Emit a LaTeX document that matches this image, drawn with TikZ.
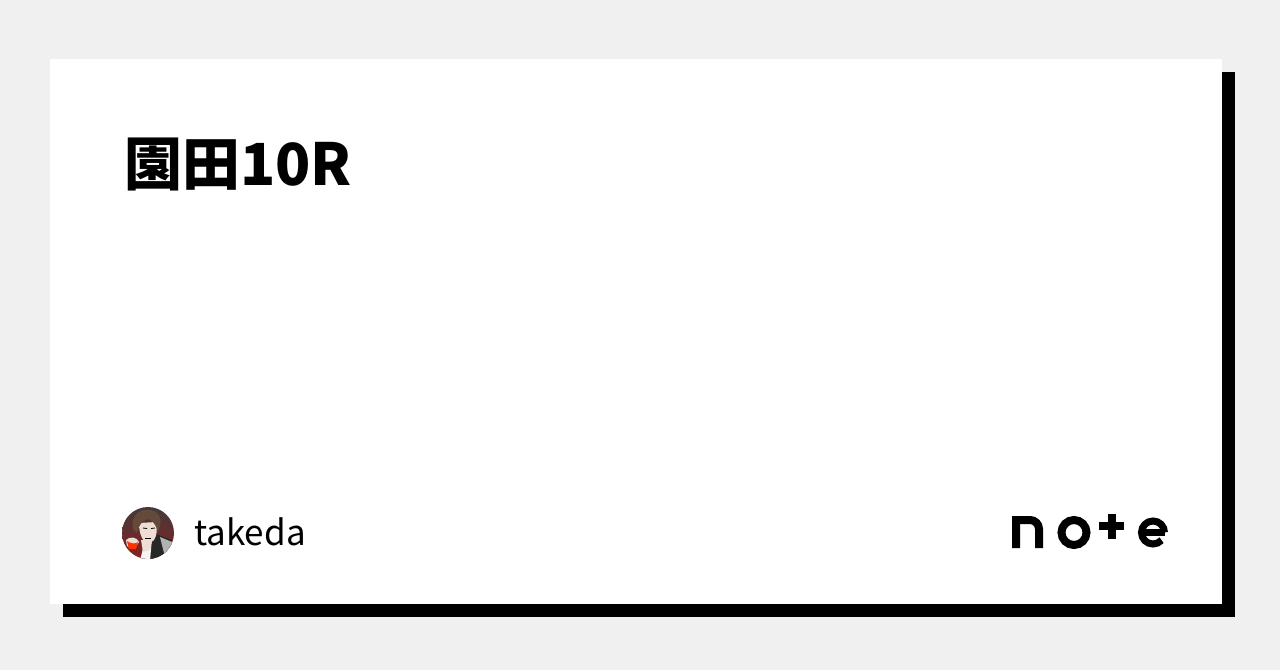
\documentclass[tikz,border=0pt]{standalone}
\usepackage{fontspec}
\newfontfamily\jp{Noto Sans CJK JP}
\definecolor{pagebg}{RGB}{240,240,240}
\definecolor{hair}{RGB}{100,74,58}
\definecolor{skin}{RGB}{238,222,212}
\definecolor{avtop}{RGB}{62,60,60}
\definecolor{avbot}{RGB}{140,30,30}
\definecolor{jacket}{RGB}{40,40,40}
\tikzset{
  logo/.style={line width=8pt},
  titletext/.style={anchor=base west, inner sep=0pt, font=\jp\bfseries\fontsize{58}{62}\selectfont},
  nametext/.style={anchor=base west, inner sep=0pt, font=\jp\fontsize{35}{38}\selectfont}
}
\begin{document}
\begin{tikzpicture}[x=1pt,y=-1pt]
\useasboundingbox (0,0) rectangle (1280,670);
\fill[pagebg] (0,0) rectangle (1280,670);
% card shadow and card
\fill[black] (63,72) rectangle (1235,617);
\fill[white] (50,59) rectangle (1222,604);
% title
\node[titletext] (title) at (124,185) {園田10R};
% avatar
\begin{scope}
\clip (148,533) circle[radius=26];
\shade[top color=avtop, bottom color=avbot] (120,505) rectangle (176,561);
% jacket
\fill[jacket] (146,545) -- (156,534) -- (172,540) -- (176,561) -- (140,561) -- cycle;
\fill[gray!60] (160,537) -- (172,542) -- (176,561) -- (166,561) -- cycle;
% shirt
\fill[white!92!gray] (140,561) -- (144,544) -- (152,538) -- (150,561) -- cycle;
% neck and face
\fill[skin] (141,540) -- (152,540) -- (150,550) -- (143,552) -- cycle;
\fill[skin] (139,523) .. controls (139,536) and (144,544) .. (150,543) .. controls (156,541) and (158,532) .. (156,522) -- cycle;
% hair
\fill[hair] (133,529) .. controls (130,516) and (140,508) .. (150,510) .. controls (160,511) and (163,520) .. (158,532) .. controls (156,524) and (152,520) .. (147,519) .. controls (142,521) and (139,525) .. (137,533) -- cycle;
% features
\draw[black, line width=0.8pt] (143,528) -- (147,528.5);
\draw[black, line width=0.8pt] (151,528.5) -- (155,528);
\draw[black, line width=1pt] (145,538) -- (151,538);
% hand and glass
\fill[skin] (126,540) .. controls (130,536) and (137,537) .. (139,542) .. controls (137,548) and (130,549) .. (127,546) -- cycle;
\fill[red!60!orange] (127,541) .. controls (131,544) and (136,544) .. (138,542) -- (136,549) -- (129,549) -- cycle;
\end{scope}
\node[nametext] (name) at (194,545) {takeda};
% note logo
\draw[logo, line join=miter] (1016,548) -- (1016,520) -- (1030,520) arc[start angle=-90, end angle=0, radius=9] -- (1039,548);
\draw[logo] (1074,532.5) circle[radius=12.5];
\fill (1107.5,514) rectangle (1115.5,539);
\fill (1099,522) rectangle (1124,530);
\draw[line width=7pt] (1164.5,532.5) arc[start angle=0, end angle=-318, radius=11.5];
\draw[line width=7pt] (1141,532.5) -- (1164.5,532.5);
\end{tikzpicture}
\end{document}
